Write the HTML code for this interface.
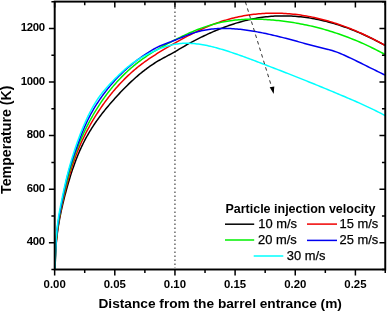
<!DOCTYPE html>
<html><head><meta charset="utf-8"><style>html,body{margin:0;padding:0;background:#fff;}svg{display:block;}</style></head><body>
<svg width="387" height="311" viewBox="0 0 387 311">
<rect width="387" height="311" fill="#fff"/>
<line x1="174.95" y1="3.55" x2="174.95" y2="268" stroke="#444" stroke-width="1.2" stroke-dasharray="1.5 2.5"/>
<path d="M55.20,269.54 L55.20,267.75 L55.21,266.00 L55.23,264.29 L55.26,262.61 L55.29,260.96 L55.33,259.34 L55.38,257.76 L55.44,256.20 L55.50,254.66 L55.57,253.15 L55.65,251.66 L55.73,250.18 L55.82,248.73 L55.92,247.29 L56.03,245.86 L56.14,244.44 L56.27,243.03 L56.40,241.63 L56.53,240.24 L56.68,238.85 L56.83,237.47 L56.99,236.10 L57.15,234.72 L57.32,233.35 L57.51,231.99 L57.69,230.63 L57.89,229.27 L58.09,227.91 L58.30,226.55 L58.52,225.19 L58.75,223.84 L58.98,222.48 L59.22,221.12 L59.46,219.76 L59.72,218.40 L59.98,217.04 L60.25,215.67 L60.53,214.30 L60.81,212.92 L61.10,211.54 L61.40,210.16 L61.71,208.77 L62.02,207.37 L62.34,205.96 L62.67,204.55 L63.01,203.13 L63.35,201.71 L63.70,200.27 L64.06,198.82 L64.42,197.37 L64.80,195.90 L65.18,194.43 L65.56,192.95 L65.96,191.46 L66.36,189.97 L66.77,188.47 L67.19,186.97 L67.61,185.47 L68.04,183.96 L68.48,182.45 L68.93,180.94 L69.38,179.43 L69.84,177.91 L70.31,176.40 L70.79,174.89 L71.27,173.38 L71.76,171.88 L72.26,170.38 L72.76,168.88 L73.28,167.39 L73.80,165.91 L74.32,164.43 L74.86,162.96 L75.40,161.49 L75.95,160.04 L76.51,158.59 L77.07,157.16 L77.64,155.74 L78.22,154.33 L78.81,152.93 L79.40,151.54 L80.00,150.17 L80.61,148.82 L81.23,147.47 L81.85,146.15 L82.48,144.83 L83.12,143.53 L83.77,142.25 L84.42,140.97 L85.08,139.71 L85.75,138.46 L86.42,137.22 L87.11,136.00 L87.80,134.78 L88.49,133.58 L89.20,132.38 L89.91,131.20 L90.63,130.03 L91.36,128.86 L92.09,127.70 L92.83,126.56 L93.58,125.42 L94.34,124.29 L95.10,123.16 L95.87,122.05 L96.65,120.94 L97.44,119.83 L98.23,118.74 L99.03,117.65 L99.84,116.56 L100.65,115.48 L101.47,114.41 L102.30,113.33 L103.14,112.27 L103.99,111.20 L104.84,110.14 L105.70,109.09 L106.57,108.03 L107.44,106.98 L108.32,105.93 L109.21,104.88 L110.11,103.83 L111.01,102.79 L111.92,101.74 L112.84,100.70 L113.77,99.65 L114.70,98.60 L115.64,97.56 L116.59,96.51 L117.54,95.47 L118.51,94.43 L119.48,93.38 L120.45,92.35 L121.44,91.31 L122.43,90.28 L123.43,89.25 L124.44,88.22 L125.45,87.20 L126.48,86.18 L127.50,85.16 L128.54,84.16 L129.58,83.15 L130.64,82.15 L131.70,81.16 L132.76,80.18 L133.83,79.20 L134.92,78.23 L136.00,77.27 L137.10,76.32 L138.20,75.37 L139.31,74.44 L140.43,73.51 L141.56,72.59 L142.69,71.68 L143.83,70.79 L144.98,69.90 L146.13,69.03 L147.29,68.16 L148.46,67.31 L149.64,66.47 L150.82,65.65 L152.01,64.83 L153.21,64.03 L154.42,63.25 L155.63,62.47 L156.85,61.72 L158.08,60.97 L159.32,60.25 L160.56,59.54 L161.81,58.84 L163.07,58.15 L164.34,57.47 L165.61,56.80 L166.89,56.12 L168.18,55.44 L169.47,54.75 L170.77,54.06 L172.08,53.34 L173.40,52.61 L174.72,51.86 L176.06,51.09 L177.39,50.29 L178.74,49.48 L180.09,48.67 L181.46,47.87 L182.82,47.07 L184.20,46.28 L185.58,45.49 L186.97,44.70 L188.37,43.93 L189.78,43.15 L191.19,42.39 L192.61,41.63 L194.04,40.87 L195.47,40.13 L196.92,39.38 L198.37,38.65 L199.82,37.92 L201.29,37.20 L202.76,36.48 L204.24,35.77 L205.73,35.07 L207.22,34.38 L208.72,33.69 L210.23,33.01 L211.75,32.34 L213.27,31.67 L214.80,31.02 L216.34,30.37 L217.88,29.73 L219.44,29.10 L221.00,28.48 L222.57,27.87 L224.14,27.27 L225.72,26.68 L227.31,26.10 L228.91,25.54 L230.52,24.98 L232.13,24.44 L233.75,23.92 L235.37,23.40 L237.01,22.90 L238.65,22.41 L240.30,21.94 L241.96,21.48 L243.62,21.04 L245.29,20.61 L246.97,20.20 L248.65,19.81 L250.35,19.43 L252.05,19.07 L253.76,18.73 L255.47,18.41 L257.19,18.10 L258.92,17.81 L260.66,17.55 L262.41,17.30 L264.16,17.07 L265.92,16.86 L267.69,16.67 L269.46,16.50 L271.24,16.35 L273.03,16.22 L274.83,16.12 L276.63,16.03 L278.44,15.96 L280.26,15.92 L282.09,15.89 L283.92,15.89 L285.76,15.90 L287.61,15.94 L289.47,16.00 L291.33,16.08 L293.20,16.19 L295.08,16.31 L296.96,16.46 L298.85,16.63 L300.75,16.82 L302.66,17.03 L304.58,17.27 L306.50,17.53 L308.43,17.81 L310.36,18.12 L312.31,18.44 L314.26,18.79 L316.22,19.17 L318.18,19.57 L320.16,19.99 L322.14,20.43 L324.13,20.90 L326.12,21.39 L328.13,21.91 L330.14,22.45 L332.16,23.01 L334.18,23.60 L336.21,24.22 L338.25,24.85 L340.30,25.52 L342.36,26.21 L344.42,26.92 L346.49,27.66 L348.56,28.42 L350.65,29.21 L352.74,30.03 L354.84,30.87 L356.95,31.73 L359.06,32.63 L361.18,33.54 L363.31,34.49 L365.44,35.46 L367.59,36.46 L369.74,37.48 L371.90,38.53 L374.06,39.61 L376.23,40.72 L378.42,41.85 L380.60,43.01 L382.80,44.19 L385.00,45.41" fill="none" stroke="#000000" stroke-width="1.5" stroke-linejoin="round"/>
<path d="M55.20,269.59 L55.20,267.82 L55.21,266.06 L55.23,264.33 L55.26,262.62 L55.29,260.93 L55.33,259.26 L55.38,257.62 L55.44,255.99 L55.50,254.38 L55.57,252.78 L55.65,251.21 L55.73,249.65 L55.82,248.10 L55.92,246.58 L56.03,245.06 L56.14,243.56 L56.27,242.07 L56.40,240.59 L56.53,239.13 L56.68,237.67 L56.83,236.23 L56.99,234.79 L57.15,233.36 L57.32,231.93 L57.51,230.52 L57.69,229.10 L57.89,227.69 L58.09,226.29 L58.30,224.89 L58.52,223.48 L58.75,222.08 L58.98,220.68 L59.22,219.28 L59.46,217.88 L59.72,216.47 L59.98,215.06 L60.25,213.64 L60.53,212.22 L60.81,210.79 L61.10,209.36 L61.40,207.92 L61.71,206.47 L62.02,205.01 L62.34,203.53 L62.67,202.05 L63.01,200.56 L63.35,199.05 L63.70,197.53 L64.06,195.99 L64.42,194.45 L64.80,192.89 L65.18,191.32 L65.56,189.75 L65.96,188.17 L66.36,186.59 L66.77,185.00 L67.19,183.41 L67.61,181.82 L68.04,180.23 L68.48,178.64 L68.93,177.05 L69.38,175.46 L69.84,173.88 L70.31,172.31 L70.79,170.74 L71.27,169.18 L71.76,167.62 L72.26,166.07 L72.76,164.53 L73.28,163.00 L73.80,161.47 L74.32,159.96 L74.86,158.45 L75.40,156.95 L75.95,155.47 L76.51,153.99 L77.07,152.53 L77.64,151.08 L78.22,149.64 L78.81,148.22 L79.40,146.80 L80.00,145.40 L80.61,144.01 L81.23,142.63 L81.85,141.27 L82.48,139.91 L83.12,138.56 L83.77,137.22 L84.42,135.89 L85.08,134.57 L85.75,133.25 L86.42,131.95 L87.11,130.64 L87.80,129.35 L88.49,128.06 L89.20,126.78 L89.91,125.50 L90.63,124.23 L91.36,122.96 L92.09,121.69 L92.83,120.43 L93.58,119.18 L94.34,117.93 L95.10,116.68 L95.87,115.44 L96.65,114.20 L97.44,112.98 L98.23,111.75 L99.03,110.53 L99.84,109.32 L100.65,108.11 L101.47,106.91 L102.30,105.72 L103.14,104.53 L103.99,103.34 L104.84,102.17 L105.70,101.00 L106.57,99.83 L107.44,98.68 L108.32,97.53 L109.21,96.38 L110.11,95.25 L111.01,94.12 L111.92,93.00 L112.84,91.89 L113.77,90.78 L114.70,89.68 L115.64,88.59 L116.59,87.51 L117.54,86.43 L118.51,85.37 L119.48,84.31 L120.45,83.26 L121.44,82.22 L122.43,81.18 L123.43,80.16 L124.44,79.14 L125.45,78.14 L126.48,77.14 L127.50,76.15 L128.54,75.17 L129.58,74.20 L130.64,73.24 L131.70,72.29 L132.76,71.35 L133.83,70.42 L134.92,69.50 L136.00,68.58 L137.10,67.68 L138.20,66.79 L139.31,65.91 L140.43,65.04 L141.56,64.18 L142.69,63.33 L143.83,62.50 L144.98,61.66 L146.13,60.84 L147.29,60.03 L148.46,59.22 L149.64,58.42 L150.82,57.63 L152.01,56.84 L153.21,56.06 L154.42,55.28 L155.63,54.51 L156.85,53.74 L158.08,52.98 L159.32,52.22 L160.56,51.46 L161.81,50.70 L163.07,49.95 L164.34,49.20 L165.61,48.44 L166.89,47.69 L168.18,46.94 L169.47,46.19 L170.77,45.43 L172.08,44.68 L173.40,43.92 L174.72,43.17 L176.06,42.41 L177.39,41.65 L178.74,40.90 L180.09,40.15 L181.46,39.40 L182.82,38.65 L184.20,37.90 L185.58,37.16 L186.97,36.43 L188.37,35.69 L189.78,34.96 L191.19,34.24 L192.61,33.52 L194.04,32.81 L195.47,32.11 L196.92,31.41 L198.37,30.72 L199.82,30.04 L201.29,29.36 L202.76,28.70 L204.24,28.04 L205.73,27.40 L207.22,26.76 L208.72,26.14 L210.23,25.52 L211.75,24.92 L213.27,24.33 L214.80,23.75 L216.34,23.19 L217.88,22.64 L219.44,22.10 L221.00,21.58 L222.57,21.07 L224.14,20.57 L225.72,20.10 L227.31,19.63 L228.91,19.18 L230.52,18.75 L232.13,18.33 L233.75,17.93 L235.37,17.54 L237.01,17.17 L238.65,16.81 L240.30,16.47 L241.96,16.14 L243.62,15.83 L245.29,15.54 L246.97,15.26 L248.65,15.00 L250.35,14.76 L252.05,14.53 L253.76,14.32 L255.47,14.13 L257.19,13.95 L258.92,13.79 L260.66,13.65 L262.41,13.53 L264.16,13.42 L265.92,13.33 L267.69,13.26 L269.46,13.20 L271.24,13.16 L273.03,13.14 L274.83,13.14 L276.63,13.16 L278.44,13.20 L280.26,13.25 L282.09,13.32 L283.92,13.41 L285.76,13.52 L287.61,13.65 L289.47,13.80 L291.33,13.97 L293.20,14.15 L295.08,14.36 L296.96,14.59 L298.85,14.83 L300.75,15.10 L302.66,15.39 L304.58,15.70 L306.50,16.02 L308.43,16.37 L310.36,16.74 L312.31,17.13 L314.26,17.55 L316.22,17.98 L318.18,18.43 L320.16,18.91 L322.14,19.41 L324.13,19.93 L326.12,20.47 L328.13,21.04 L330.14,21.63 L332.16,22.24 L334.18,22.87 L336.21,23.53 L338.25,24.21 L340.30,24.92 L342.36,25.64 L344.42,26.39 L346.49,27.17 L348.56,27.97 L350.65,28.79 L352.74,29.64 L354.84,30.51 L356.95,31.41 L359.06,32.33 L361.18,33.28 L363.31,34.25 L365.44,35.24 L367.59,36.27 L369.74,37.31 L371.90,38.39 L374.06,39.49 L376.23,40.62 L378.42,41.77 L380.60,42.95 L382.80,44.15 L385.00,45.39" fill="none" stroke="#f00000" stroke-width="1.5" stroke-linejoin="round"/>
<path d="M55.20,269.68 L55.20,267.69 L55.21,265.74 L55.23,263.83 L55.26,261.95 L55.29,260.11 L55.33,258.31 L55.38,256.54 L55.44,254.80 L55.50,253.09 L55.57,251.41 L55.65,249.76 L55.73,248.14 L55.82,246.53 L55.92,244.96 L56.03,243.40 L56.14,241.87 L56.27,240.35 L56.40,238.86 L56.53,237.37 L56.68,235.91 L56.83,234.46 L56.99,233.02 L57.15,231.59 L57.32,230.17 L57.51,228.75 L57.69,227.35 L57.89,225.95 L58.09,224.55 L58.30,223.16 L58.52,221.76 L58.75,220.37 L58.98,218.98 L59.22,217.58 L59.46,216.17 L59.72,214.76 L59.98,213.35 L60.25,211.92 L60.53,210.48 L60.81,209.03 L61.10,207.57 L61.40,206.10 L61.71,204.61 L62.02,203.10 L62.34,201.57 L62.67,200.02 L63.01,198.45 L63.35,196.86 L63.70,195.25 L64.06,193.63 L64.42,191.99 L64.80,190.34 L65.18,188.68 L65.56,187.01 L65.96,185.34 L66.36,183.67 L66.77,182.00 L67.19,180.33 L67.61,178.66 L68.04,177.01 L68.48,175.36 L68.93,173.72 L69.38,172.09 L69.84,170.48 L70.31,168.87 L70.79,167.28 L71.27,165.69 L71.76,164.12 L72.26,162.55 L72.76,161.00 L73.28,159.45 L73.80,157.91 L74.32,156.39 L74.86,154.87 L75.40,153.36 L75.95,151.86 L76.51,150.36 L77.07,148.88 L77.64,147.40 L78.22,145.93 L78.81,144.47 L79.40,143.01 L80.00,141.56 L80.61,140.13 L81.23,138.69 L81.85,137.27 L82.48,135.85 L83.12,134.44 L83.77,133.04 L84.42,131.65 L85.08,130.26 L85.75,128.88 L86.42,127.51 L87.11,126.15 L87.80,124.79 L88.49,123.44 L89.20,122.10 L89.91,120.76 L90.63,119.43 L91.36,118.11 L92.09,116.80 L92.83,115.50 L93.58,114.20 L94.34,112.91 L95.10,111.63 L95.87,110.35 L96.65,109.09 L97.44,107.83 L98.23,106.58 L99.03,105.34 L99.84,104.11 L100.65,102.88 L101.47,101.67 L102.30,100.46 L103.14,99.26 L103.99,98.07 L104.84,96.89 L105.70,95.71 L106.57,94.55 L107.44,93.39 L108.32,92.24 L109.21,91.10 L110.11,89.97 L111.01,88.85 L111.92,87.74 L112.84,86.64 L113.77,85.55 L114.70,84.46 L115.64,83.39 L116.59,82.32 L117.54,81.27 L118.51,80.22 L119.48,79.18 L120.45,78.15 L121.44,77.14 L122.43,76.13 L123.43,75.13 L124.44,74.14 L125.45,73.16 L126.48,72.19 L127.50,71.23 L128.54,70.29 L129.58,69.35 L130.64,68.42 L131.70,67.50 L132.76,66.59 L133.83,65.70 L134.92,64.81 L136.00,63.93 L137.10,63.07 L138.20,62.21 L139.31,61.36 L140.43,60.53 L141.56,59.71 L142.69,58.89 L143.83,58.09 L144.98,57.30 L146.13,56.51 L147.29,55.73 L148.46,54.97 L149.64,54.20 L150.82,53.45 L152.01,52.71 L153.21,51.97 L154.42,51.23 L155.63,50.50 L156.85,49.78 L158.08,49.07 L159.32,48.35 L160.56,47.65 L161.81,46.94 L163.07,46.24 L164.34,45.54 L165.61,44.85 L166.89,44.15 L168.18,43.46 L169.47,42.77 L170.77,42.08 L172.08,41.40 L173.40,40.71 L174.72,40.03 L176.06,39.35 L177.39,38.67 L178.74,38.00 L180.09,37.33 L181.46,36.66 L182.82,36.00 L184.20,35.35 L185.58,34.70 L186.97,34.06 L188.37,33.43 L189.78,32.80 L191.19,32.19 L192.61,31.58 L194.04,30.98 L195.47,30.39 L196.92,29.81 L198.37,29.25 L199.82,28.69 L201.29,28.14 L202.76,27.61 L204.24,27.09 L205.73,26.59 L207.22,26.10 L208.72,25.62 L210.23,25.16 L211.75,24.71 L213.27,24.28 L214.80,23.86 L216.34,23.47 L217.88,23.09 L219.44,22.73 L221.00,22.38 L222.57,22.06 L224.14,21.75 L225.72,21.46 L227.31,21.19 L228.91,20.94 L230.52,20.70 L232.13,20.49 L233.75,20.29 L235.37,20.11 L237.01,19.94 L238.65,19.79 L240.30,19.66 L241.96,19.54 L243.62,19.44 L245.29,19.36 L246.97,19.29 L248.65,19.24 L250.35,19.21 L252.05,19.18 L253.76,19.18 L255.47,19.19 L257.19,19.21 L258.92,19.25 L260.66,19.31 L262.41,19.37 L264.16,19.46 L265.92,19.55 L267.69,19.66 L269.46,19.78 L271.24,19.92 L273.03,20.07 L274.83,20.23 L276.63,20.41 L278.44,20.60 L280.26,20.80 L282.09,21.01 L283.92,21.24 L285.76,21.48 L287.61,21.73 L289.47,22.00 L291.33,22.28 L293.20,22.57 L295.08,22.88 L296.96,23.20 L298.85,23.54 L300.75,23.89 L302.66,24.26 L304.58,24.65 L306.50,25.04 L308.43,25.46 L310.36,25.89 L312.31,26.34 L314.26,26.80 L316.22,27.29 L318.18,27.78 L320.16,28.30 L322.14,28.84 L324.13,29.39 L326.12,29.96 L328.13,30.55 L330.14,31.16 L332.16,31.79 L334.18,32.43 L336.21,33.10 L338.25,33.79 L340.30,34.50 L342.36,35.22 L344.42,35.97 L346.49,36.74 L348.56,37.53 L350.65,38.34 L352.74,39.18 L354.84,40.03 L356.95,40.91 L359.06,41.81 L361.18,42.73 L363.31,43.68 L365.44,44.65 L367.59,45.64 L369.74,46.66 L371.90,47.70 L374.06,48.77 L376.23,49.86 L378.42,50.97 L380.60,52.11 L382.80,53.28 L385.00,54.47" fill="none" stroke="#00f000" stroke-width="1.5" stroke-linejoin="round"/>
<path d="M55.20,269.47 L55.20,267.49 L55.21,265.52 L55.23,263.56 L55.26,261.63 L55.29,259.70 L55.33,257.80 L55.38,255.92 L55.44,254.06 L55.50,252.22 L55.57,250.41 L55.65,248.63 L55.73,246.88 L55.82,245.15 L55.92,243.46 L56.03,241.81 L56.14,240.19 L56.27,238.60 L56.40,237.05 L56.53,235.52 L56.68,234.03 L56.83,232.55 L56.99,231.10 L57.15,229.67 L57.32,228.25 L57.51,226.85 L57.69,225.46 L57.89,224.08 L58.09,222.71 L58.30,221.34 L58.52,219.97 L58.75,218.60 L58.98,217.23 L59.22,215.85 L59.46,214.46 L59.72,213.06 L59.98,211.65 L60.25,210.22 L60.53,208.77 L60.81,207.31 L61.10,205.82 L61.40,204.30 L61.71,202.75 L62.02,201.17 L62.34,199.56 L62.67,197.92 L63.01,196.24 L63.35,194.54 L63.70,192.82 L64.06,191.08 L64.42,189.33 L64.80,187.57 L65.18,185.81 L65.56,184.05 L65.96,182.30 L66.36,180.56 L66.77,178.84 L67.19,177.14 L67.61,175.47 L68.04,173.83 L68.48,172.21 L68.93,170.63 L69.38,169.07 L69.84,167.52 L70.31,166.00 L70.79,164.49 L71.27,162.99 L71.76,161.50 L72.26,160.01 L72.76,158.53 L73.28,157.05 L73.80,155.56 L74.32,154.06 L74.86,152.56 L75.40,151.04 L75.95,149.50 L76.51,147.95 L77.07,146.38 L77.64,144.80 L78.22,143.22 L78.81,141.62 L79.40,140.02 L80.00,138.42 L80.61,136.81 L81.23,135.22 L81.85,133.63 L82.48,132.04 L83.12,130.47 L83.77,128.91 L84.42,127.37 L85.08,125.85 L85.75,124.35 L86.42,122.88 L87.11,121.43 L87.80,119.99 L88.49,118.58 L89.20,117.19 L89.91,115.82 L90.63,114.47 L91.36,113.13 L92.09,111.81 L92.83,110.51 L93.58,109.23 L94.34,107.96 L95.10,106.70 L95.87,105.46 L96.65,104.22 L97.44,103.01 L98.23,101.80 L99.03,100.60 L99.84,99.41 L100.65,98.24 L101.47,97.07 L102.30,95.91 L103.14,94.76 L103.99,93.61 L104.84,92.48 L105.70,91.36 L106.57,90.24 L107.44,89.14 L108.32,88.04 L109.21,86.96 L110.11,85.88 L111.01,84.81 L111.92,83.75 L112.84,82.70 L113.77,81.66 L114.70,80.62 L115.64,79.60 L116.59,78.59 L117.54,77.58 L118.51,76.59 L119.48,75.60 L120.45,74.62 L121.44,73.65 L122.43,72.69 L123.43,71.74 L124.44,70.80 L125.45,69.87 L126.48,68.94 L127.50,68.03 L128.54,67.12 L129.58,66.22 L130.64,65.34 L131.70,64.46 L132.76,63.59 L133.83,62.73 L134.92,61.87 L136.00,61.03 L137.10,60.20 L138.20,59.37 L139.31,58.55 L140.43,57.75 L141.56,56.95 L142.69,56.16 L143.83,55.38 L144.98,54.60 L146.13,53.84 L147.29,53.09 L148.46,52.34 L149.64,51.61 L150.82,50.88 L152.01,50.16 L153.21,49.46 L154.42,48.77 L155.63,48.11 L156.85,47.46 L158.08,46.85 L159.32,46.26 L160.56,45.71 L161.81,45.18 L163.07,44.68 L164.34,44.20 L165.61,43.73 L166.89,43.26 L168.18,42.79 L169.47,42.32 L170.77,41.83 L172.08,41.32 L173.40,40.80 L174.72,40.27 L176.06,39.73 L177.39,39.18 L178.74,38.63 L180.09,38.08 L181.46,37.52 L182.82,36.97 L184.20,36.42 L185.58,35.88 L186.97,35.35 L188.37,34.82 L189.78,34.30 L191.19,33.80 L192.61,33.32 L194.04,32.85 L195.47,32.40 L196.92,31.97 L198.37,31.56 L199.82,31.18 L201.29,30.82 L202.76,30.49 L204.24,30.19 L205.73,29.91 L207.22,29.66 L208.72,29.43 L210.23,29.23 L211.75,29.05 L213.27,28.89 L214.80,28.76 L216.34,28.65 L217.88,28.56 L219.44,28.49 L221.00,28.44 L222.57,28.42 L224.14,28.41 L225.72,28.42 L227.31,28.46 L228.91,28.51 L230.52,28.58 L232.13,28.67 L233.75,28.77 L235.37,28.90 L237.01,29.04 L238.65,29.19 L240.30,29.36 L241.96,29.55 L243.62,29.75 L245.29,29.97 L246.97,30.20 L248.65,30.44 L250.35,30.70 L252.05,30.97 L253.76,31.26 L255.47,31.56 L257.19,31.87 L258.92,32.19 L260.66,32.53 L262.41,32.87 L264.16,33.23 L265.92,33.60 L267.69,33.98 L269.46,34.38 L271.24,34.78 L273.03,35.19 L274.83,35.61 L276.63,36.04 L278.44,36.48 L280.26,36.93 L282.09,37.39 L283.92,37.86 L285.76,38.33 L287.61,38.82 L289.47,39.31 L291.33,39.80 L293.20,40.31 L295.08,40.82 L296.96,41.33 L298.85,41.85 L300.75,42.37 L302.66,42.90 L304.58,43.42 L306.50,43.94 L308.43,44.46 L310.36,44.98 L312.31,45.49 L314.26,45.99 L316.22,46.49 L318.18,46.98 L320.16,47.46 L322.14,47.94 L324.13,48.41 L326.12,48.90 L328.13,49.40 L330.14,49.95 L332.16,50.53 L334.18,51.18 L336.21,51.89 L338.25,52.67 L340.30,53.50 L342.36,54.38 L344.42,55.30 L346.49,56.24 L348.56,57.20 L350.65,58.18 L352.74,59.18 L354.84,60.19 L356.95,61.21 L359.06,62.24 L361.18,63.29 L363.31,64.34 L365.44,65.41 L367.59,66.47 L369.74,67.55 L371.90,68.63 L374.06,69.70 L376.23,70.78 L378.42,71.86 L380.60,72.94 L382.80,74.01 L385.00,75.08" fill="none" stroke="#0000f0" stroke-width="1.5" stroke-linejoin="round"/>
<path d="M55.20,269.48 L55.20,267.51 L55.21,265.55 L55.23,263.59 L55.26,261.65 L55.29,259.71 L55.33,257.79 L55.38,255.88 L55.44,253.97 L55.50,252.09 L55.57,250.21 L55.65,248.36 L55.73,246.52 L55.82,244.69 L55.92,242.89 L56.03,241.10 L56.14,239.34 L56.27,237.59 L56.40,235.87 L56.53,234.17 L56.68,232.50 L56.83,230.85 L56.99,229.23 L57.15,227.63 L57.32,226.07 L57.51,224.53 L57.69,223.02 L57.89,221.54 L58.09,220.08 L58.30,218.64 L58.52,217.21 L58.75,215.80 L58.98,214.39 L59.22,212.99 L59.46,211.59 L59.72,210.19 L59.98,208.79 L60.25,207.38 L60.53,205.95 L60.81,204.52 L61.10,203.06 L61.40,201.59 L61.71,200.09 L62.02,198.56 L62.34,197.01 L62.67,195.43 L63.01,193.83 L63.35,192.21 L63.70,190.57 L64.06,188.92 L64.42,187.26 L64.80,185.59 L65.18,183.91 L65.56,182.23 L65.96,180.54 L66.36,178.85 L66.77,177.17 L67.19,175.49 L67.61,173.82 L68.04,172.15 L68.48,170.49 L68.93,168.84 L69.38,167.19 L69.84,165.55 L70.31,163.91 L70.79,162.27 L71.27,160.64 L71.76,159.02 L72.26,157.39 L72.76,155.77 L73.28,154.15 L73.80,152.54 L74.32,150.92 L74.86,149.30 L75.40,147.69 L75.95,146.07 L76.51,144.46 L77.07,142.85 L77.64,141.25 L78.22,139.65 L78.81,138.05 L79.40,136.46 L80.00,134.87 L80.61,133.30 L81.23,131.73 L81.85,130.16 L82.48,128.61 L83.12,127.07 L83.77,125.54 L84.42,124.02 L85.08,122.51 L85.75,121.02 L86.42,119.54 L87.11,118.07 L87.80,116.62 L88.49,115.18 L89.20,113.76 L89.91,112.36 L90.63,110.98 L91.36,109.61 L92.09,108.26 L92.83,106.94 L93.58,105.63 L94.34,104.35 L95.10,103.09 L95.87,101.85 L96.65,100.64 L97.44,99.45 L98.23,98.29 L99.03,97.15 L99.84,96.03 L100.65,94.93 L101.47,93.85 L102.30,92.79 L103.14,91.75 L103.99,90.72 L104.84,89.71 L105.70,88.70 L106.57,87.71 L107.44,86.73 L108.32,85.76 L109.21,84.80 L110.11,83.84 L111.01,82.88 L111.92,81.93 L112.84,80.98 L113.77,80.03 L114.70,79.08 L115.64,78.14 L116.59,77.19 L117.54,76.24 L118.51,75.30 L119.48,74.36 L120.45,73.43 L121.44,72.50 L122.43,71.59 L123.43,70.68 L124.44,69.78 L125.45,68.89 L126.48,68.02 L127.50,67.16 L128.54,66.32 L129.58,65.49 L130.64,64.68 L131.70,63.89 L132.76,63.11 L133.83,62.35 L134.92,61.61 L136.00,60.88 L137.10,60.17 L138.20,59.47 L139.31,58.78 L140.43,58.11 L141.56,57.45 L142.69,56.81 L143.83,56.17 L144.98,55.55 L146.13,54.93 L147.29,54.33 L148.46,53.74 L149.64,53.15 L150.82,52.58 L152.01,52.01 L153.21,51.46 L154.42,50.91 L155.63,50.38 L156.85,49.85 L158.08,49.35 L159.32,48.85 L160.56,48.37 L161.81,47.91 L163.07,47.46 L164.34,47.03 L165.61,46.62 L166.89,46.23 L168.18,45.86 L169.47,45.51 L170.77,45.19 L172.08,44.88 L173.40,44.60 L174.72,44.34 L176.06,44.11 L177.39,43.91 L178.74,43.73 L180.09,43.58 L181.46,43.46 L182.82,43.37 L184.20,43.31 L185.58,43.27 L186.97,43.26 L188.37,43.27 L189.78,43.31 L191.19,43.38 L192.61,43.47 L194.04,43.58 L195.47,43.72 L196.92,43.88 L198.37,44.07 L199.82,44.27 L201.29,44.50 L202.76,44.74 L204.24,45.01 L205.73,45.29 L207.22,45.60 L208.72,45.92 L210.23,46.26 L211.75,46.62 L213.27,47.00 L214.80,47.39 L216.34,47.80 L217.88,48.22 L219.44,48.66 L221.00,49.11 L222.57,49.57 L224.14,50.05 L225.72,50.54 L227.31,51.05 L228.91,51.56 L230.52,52.09 L232.13,52.63 L233.75,53.17 L235.37,53.73 L237.01,54.30 L238.65,54.88 L240.30,55.46 L241.96,56.06 L243.62,56.66 L245.29,57.27 L246.97,57.89 L248.65,58.51 L250.35,59.14 L252.05,59.78 L253.76,60.42 L255.47,61.07 L257.19,61.72 L258.92,62.38 L260.66,63.03 L262.41,63.70 L264.16,64.37 L265.92,65.04 L267.69,65.71 L269.46,66.39 L271.24,67.08 L273.03,67.76 L274.83,68.46 L276.63,69.15 L278.44,69.85 L280.26,70.56 L282.09,71.27 L283.92,71.98 L285.76,72.70 L287.61,73.42 L289.47,74.15 L291.33,74.89 L293.20,75.62 L295.08,76.36 L296.96,77.11 L298.85,77.86 L300.75,78.62 L302.66,79.38 L304.58,80.15 L306.50,80.92 L308.43,81.69 L310.36,82.47 L312.31,83.26 L314.26,84.05 L316.22,84.85 L318.18,85.65 L320.16,86.46 L322.14,87.27 L324.13,88.09 L326.12,88.91 L328.13,89.74 L330.14,90.57 L332.16,91.41 L334.18,92.25 L336.21,93.11 L338.25,93.96 L340.30,94.82 L342.36,95.69 L344.42,96.56 L346.49,97.45 L348.56,98.34 L350.65,99.23 L352.74,100.14 L354.84,101.06 L356.95,101.99 L359.06,102.93 L361.18,103.89 L363.31,104.86 L365.44,105.84 L367.59,106.84 L369.74,107.86 L371.90,108.89 L374.06,109.94 L376.23,111.00 L378.42,112.09 L380.60,113.20 L382.80,114.33 L385.00,115.48" fill="none" stroke="#00ffff" stroke-width="1.5" stroke-linejoin="round"/>
<line x1="245.4" y1="1.9" x2="271.3" y2="85.8" stroke="#333" stroke-width="1.0" stroke-dasharray="3.5 3.34"/>
<polygon points="269.7,87.2 274.3,86.4 273.7,93.9" fill="#000"/>
<path d="M54.65,269.50V275.50 M54.65,1.60V7.40 M114.80,269.50V275.50 M114.80,1.60V7.40 M174.95,269.50V275.50 M174.95,1.60V7.40 M235.10,269.50V275.50 M235.10,1.60V7.40 M295.25,269.50V275.50 M295.25,1.60V7.40 M355.40,269.50V275.50 M355.40,1.60V7.40 M84.72,269.50V273.00 M84.72,1.60V5.20 M144.88,269.50V273.00 M144.88,1.60V5.20 M205.03,269.50V273.00 M205.03,1.60V5.20 M265.17,269.50V273.00 M265.17,1.60V5.20 M325.32,269.50V273.00 M325.32,1.60V5.20 M385.25,269.50V273.00 M385.25,1.60V5.20 M54.70,242.72H48.90 M385.25,242.72H379.45 M54.70,189.18H48.90 M385.25,189.18H379.45 M54.70,135.62H48.90 M385.25,135.62H379.45 M54.70,82.08H48.90 M385.25,82.08H379.45 M54.70,28.53H48.90 M385.25,28.53H379.45 M54.70,269.50H51.40 M385.25,269.50H381.95 M54.70,215.95H51.40 M385.25,215.95H381.95 M54.70,162.40H51.40 M385.25,162.40H381.95 M54.70,108.85H51.40 M385.25,108.85H381.95 M54.70,55.30H51.40 M385.25,55.30H381.95 M54.70,1.75H51.40 M385.25,1.75H381.95" stroke="#000" stroke-width="1.5" fill="none"/>
<rect x="54.70" y="1.60" width="330.55" height="267.90" fill="none" stroke="#000" stroke-width="1.95"/>
<g font-family="Liberation Sans, Arial, sans-serif" font-weight="bold" font-size="11.4" fill="#000"><text x="54.65" y="288.3" text-anchor="middle">0.00</text><text x="114.80" y="288.3" text-anchor="middle">0.05</text><text x="174.95" y="288.3" text-anchor="middle">0.10</text><text x="235.10" y="288.3" text-anchor="middle">0.15</text><text x="295.25" y="288.3" text-anchor="middle">0.20</text><text x="355.40" y="288.3" text-anchor="middle">0.25</text><text x="44.6" y="245.22" text-anchor="end" letter-spacing="-0.4">400</text><text x="44.6" y="191.68" text-anchor="end" letter-spacing="-0.4">600</text><text x="44.6" y="138.12" text-anchor="end" letter-spacing="-0.4">800</text><text x="44.6" y="84.58" text-anchor="end" letter-spacing="-0.4">1000</text><text x="44.6" y="31.03" text-anchor="end" letter-spacing="-0.4">1200</text></g>
<text x="220.2" y="307.6" text-anchor="middle" font-family="Liberation Sans, Arial, sans-serif" font-weight="bold" font-size="13.7">Distance from the barrel entrance (m)</text>
<text transform="translate(11.0,139.7) rotate(-90)" text-anchor="middle" font-family="Liberation Sans, Arial, sans-serif" font-weight="bold" font-size="14.2">Temperature (K)</text>
<g font-family="Liberation Sans, Arial, sans-serif" font-size="12.9" fill="#000"><text x="225.4" y="212.9" font-weight="bold" font-size="12.5">Particle injection velocity</text><line x1="225.0" y1="224.2" x2="254.2" y2="224.2" stroke="#000000" stroke-width="1.5"/><text x="258.3" y="228.1" stroke="#000" stroke-width="0.25">10 m/s</text><line x1="307.0" y1="224.1" x2="337.0" y2="224.1" stroke="#f00000" stroke-width="1.5"/><text x="339.6" y="228.0" stroke="#000" stroke-width="0.25">15 m/s</text><line x1="225.0" y1="240.0" x2="254.2" y2="240.0" stroke="#00f000" stroke-width="1.5"/><text x="258.1" y="243.9" stroke="#000" stroke-width="0.25">20 m/s</text><line x1="307.0" y1="240.4" x2="337.0" y2="240.4" stroke="#0000f0" stroke-width="1.5"/><text x="339.6" y="244.3" stroke="#000" stroke-width="0.25">25 m/s</text><line x1="253.7" y1="256.0" x2="283.3" y2="256.0" stroke="#00ffff" stroke-width="1.5"/><text x="286.8" y="259.9" stroke="#000" stroke-width="0.25">30 m/s</text></g>
</svg>
</body></html>
